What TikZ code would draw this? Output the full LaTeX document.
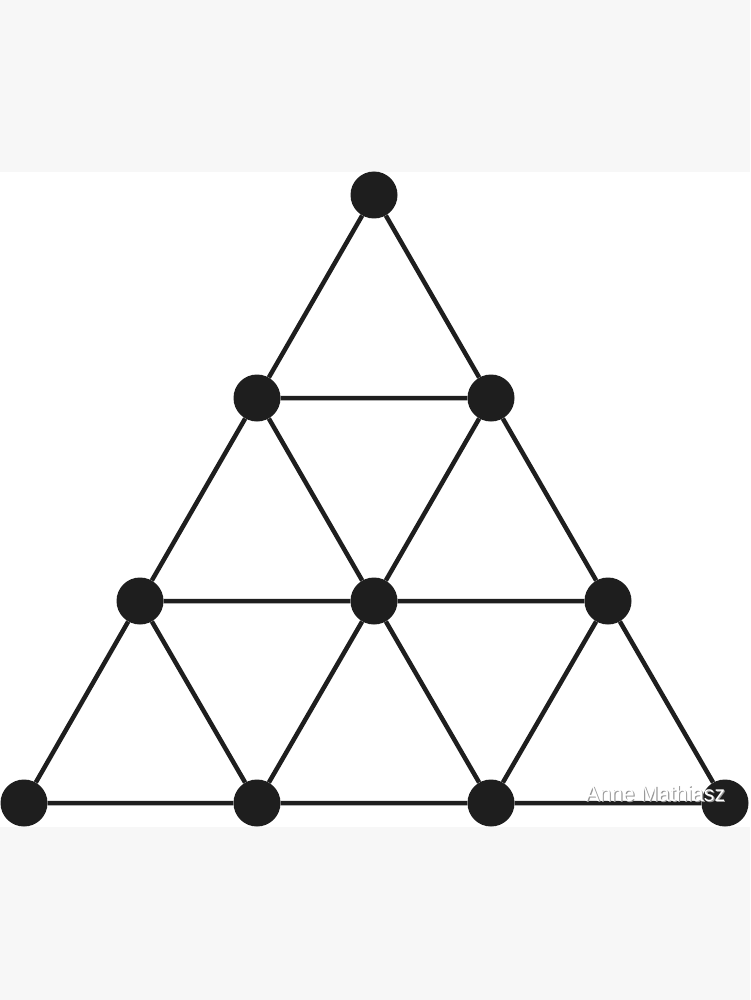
\documentclass[tikz,border=0pt]{standalone}
\usepackage{fontspec}
\setmainfont{Liberation Sans}
\definecolor{ink}{HTML}{1E1E1E}
\definecolor{bandgray}{HTML}{F7F7F7}
\begin{document}
\begin{tikzpicture}[x=1pt,y=-1pt,
  dot/.style={circle,fill=ink,minimum size=47pt,inner sep=0pt},
  edge/.style={draw=ink,line width=4.5pt},
  wmark/.style={font=\fontsize{22}{22}\selectfont,inner sep=0pt,anchor=base east,xscale=0.96}]
\useasboundingbox (0,0) rectangle (750,1000);
\fill[bandgray] (0,0) rectangle (750,172);
\fill[white] (0,172) rectangle (750,827);
\fill[bandgray] (0,827) rectangle (750,1000);
% nodes
\node[dot] (a) at (374,195) {};
\node[dot] (b1) at (257,398) {};
\node[dot] (b2) at (491,398) {};
\node[dot] (c1) at (140,601) {};
\node[dot] (c2) at (374,601) {};
\node[dot] (c3) at (608,601) {};
\node[dot] (d1) at (24,803) {};
\node[dot] (d2) at (257,803) {};
\node[dot] (d3) at (491,803) {};
\node[dot] (d4) at (725,803) {};
\path[edge] (a) -- (b1) (a) -- (b2) (b1) -- (b2)
  (b1) -- (c1) (b1) -- (c2) (b2) -- (c2) (b2) -- (c3)
  (c1) -- (c2) (c2) -- (c3)
  (c1) -- (d1) (c1) -- (d2) (c2) -- (d2) (c2) -- (d3) (c3) -- (d3) (c3) -- (d4)
  (d1) -- (d2) (d2) -- (d3) (d3) -- (d4);
% watermark
\node[wmark,text=gray!80] (wm0) at (726.5,802.5) {Anne Mathiasz};
\node[wmark,text=white] (wm) at (725.3,801.3) {Anne Mathiasz};
\end{tikzpicture}
\end{document}
